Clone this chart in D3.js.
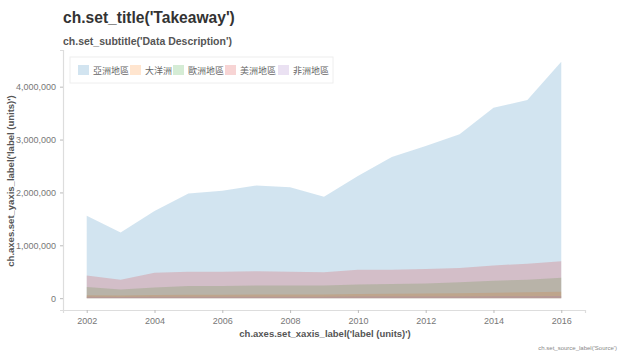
<!DOCTYPE html>
<html><head><meta charset="utf-8">
<script src="https://cdn.jsdelivr.net/npm/d3@7"></script>
<style>body{margin:0;background:#fff}svg{display:block}</style>
</head><body>
<script>
const years = [2002,2003,2004,2005,2006,2007,2008,2009,2010,2011,2012,2013,2014,2015,2016];
const seriesNames = ["亞洲地區","大洋洲","歐洲地區","美洲地區","非洲地區"];
const asia     = [1560000,1240000,1650000,1980000,2030000,2130000,2100000,1920000,2310000,2670000,2880000,3100000,3600000,3750000,4470000];
const oceania  = [57000,50000,60000,65000,65000,70000,70000,70000,80000,85000,90000,95000,105000,110000,120000];
const europe   = [210000,165000,200000,230000,230000,240000,240000,240000,260000,270000,280000,300000,330000,350000,385000];
const americas = [430000,350000,480000,500000,500000,510000,500000,490000,540000,540000,550000,570000,620000,650000,700000];
const africa   = [25000,20000,25000,25000,25000,28000,28000,28000,30000,30000,30000,32000,35000,35000,40000];
const seriesValues = [asia, oceania, europe, americas, africa];
const colors = ["#1f77b4","#ff7f0e","#2ca02c","#d62728","#9467bd"];
const xTicks = [2002,2004,2006,2008,2010,2012,2014,2016];
const yTicks = [0,1000000,2000000,3000000,4000000];

const W=624,H=351;
const svg=d3.select("body").append("svg").attr("width",W).attr("height",H);
const font="Liberation Sans, Arial, sans-serif";
const L=63,R=585,T=50,B=310;
const maxV=d3.max(seriesValues.flat());
const pad=maxV*0.05;
const x=d3.scaleLinear().domain([2002-0.7,2016+0.7]).range([L,R]);
const y=d3.scaleLinear().domain([-pad,maxV+pad]).range([B,T]);

svg.append("text").attr("x",63).attr("y",23).attr("font-family",font).attr("font-size",15.6).attr("font-weight","bold").attr("fill","#333").text("ch.set_title('Takeaway')");
svg.append("text").attr("x",63).attr("y",45).attr("font-family",font).attr("font-size",10.5).attr("font-weight","bold").attr("fill","#555").text("ch.set_subtitle('Data Description')");

const area=d3.area().x((d,i)=>x(years[i])).y0(y(0)).y1(d=>y(d));
seriesValues.forEach((vals,k)=>{
  svg.append("path").datum(vals).attr("d",area).attr("fill",colors[k]).attr("fill-opacity",0.2);
});

// axes
const gx=svg.append("g").attr("transform",`translate(0,${B})`).call(d3.axisBottom(x).tickValues(xTicks).tickFormat(d3.format("d")).tickSize(3).tickPadding(5));
const gy=svg.append("g").attr("transform",`translate(${L},0)`).call(d3.axisLeft(y).tickValues(yTicks).tickFormat(d3.format(",")).tickSize(3).tickPadding(4));
[gx,gy].forEach(g=>{
  g.select(".domain").attr("stroke","#ddd").attr("stroke-width",1.2);
  g.selectAll(".tick line").attr("stroke","#bbb");
  g.selectAll(".tick text").attr("fill","#777").attr("font-family",font).attr("font-size",9);
});

svg.append("text").attr("transform",`translate(14,181) rotate(-90)`).attr("text-anchor","middle").attr("font-family",font).attr("font-size",9.5).attr("font-weight","bold").attr("fill","#555").text("ch.axes.set_yaxis_label('label (units)')");
svg.append("text").attr("x",325).attr("y",337).attr("text-anchor","middle").attr("font-family",font).attr("font-size",9.5).attr("font-weight","bold").attr("fill","#555").text("ch.axes.set_xaxis_label('label (units)')");
svg.append("text").attr("x",617).attr("y",350).attr("text-anchor","end").attr("font-family",font).attr("font-size",6).attr("fill","#888").text("ch.set_source_label('Source')");

// legend
const lg=svg.append("g");
lg.append("rect").attr("x",70).attr("y",57).attr("width",263).attr("height",26).attr("fill","#fff").attr("stroke","#eee");
const swX=[78,130,173,225,278];
seriesNames.forEach((n,k)=>{
  lg.append("rect").attr("x",swX[k]).attr("y",65).attr("width",11).attr("height",10).attr("fill",colors[k]).attr("fill-opacity",0.2);
  lg.append("text").attr("x",swX[k]+15).attr("y",74).attr("font-family","Noto Sans CJK TC, sans-serif").attr("font-size",9).attr("fill","#666").text(n);
});
</script>
</body></html>
